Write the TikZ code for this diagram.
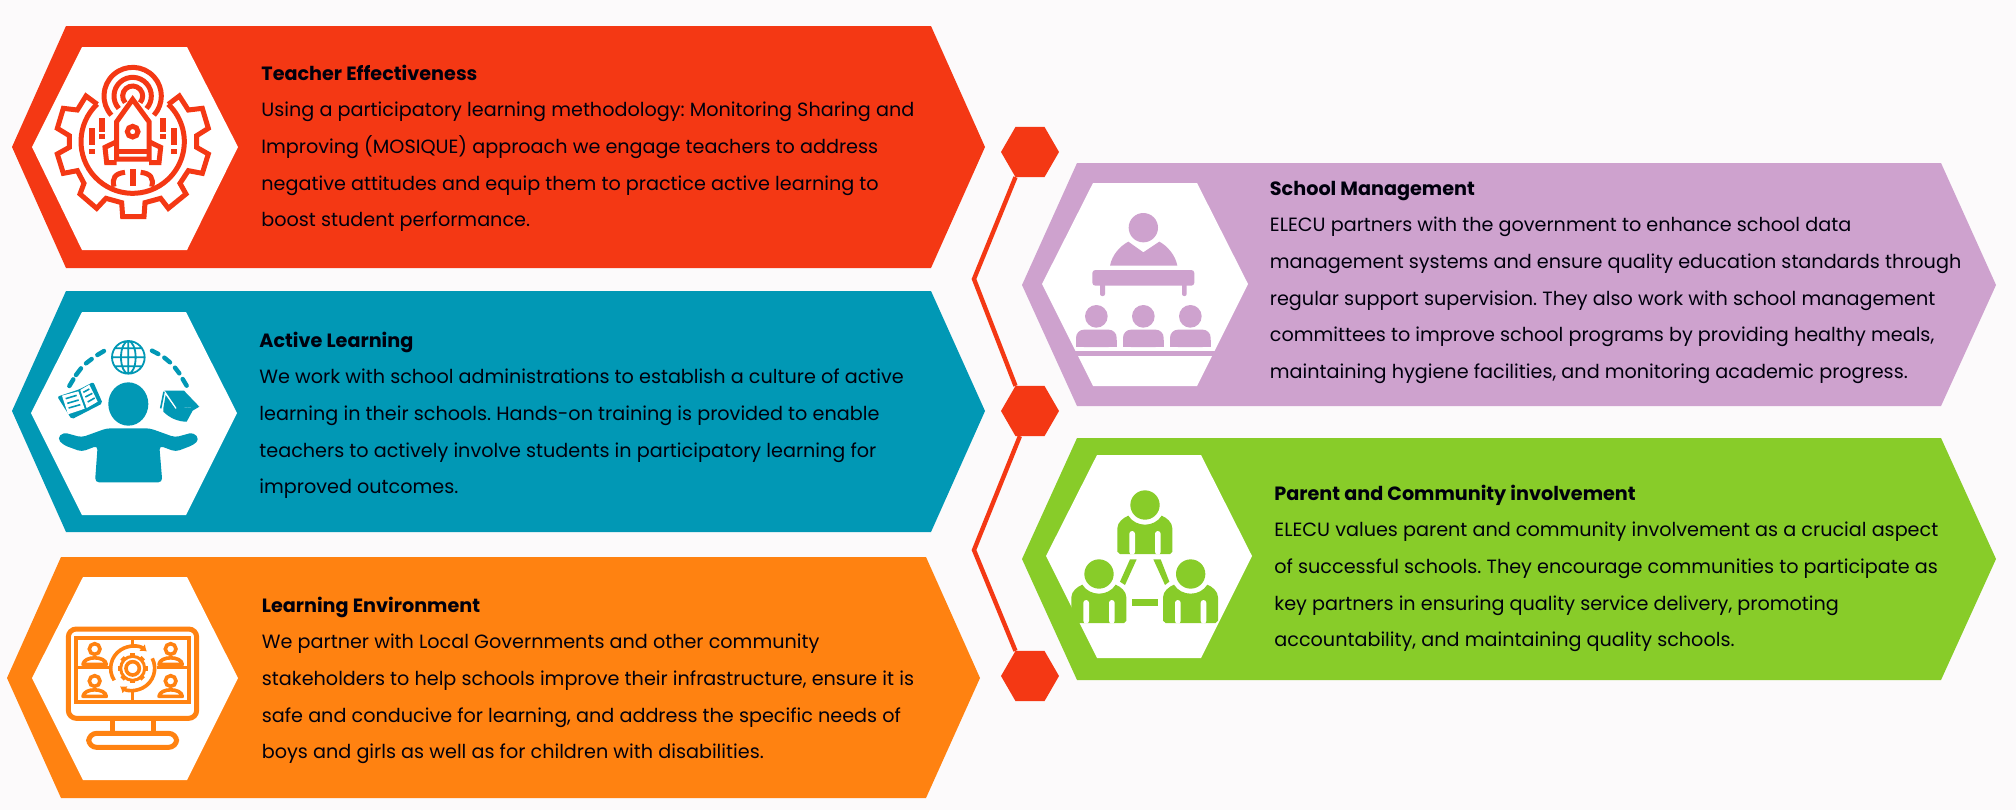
\documentclass[tikz,border=0pt]{standalone}
\usepackage{fontspec}
\setmainfont{Poppins}
\usetikzlibrary{shapes.geometric,arrows.meta}

\definecolor{pagebg}{HTML}{FCFAFB}
\definecolor{panelred}{HTML}{F43814}
\definecolor{panelblue}{HTML}{0198B5}
\definecolor{panelorange}{HTML}{FF8211}
\definecolor{panelpurple}{HTML}{CEA2CE}
\definecolor{panelgreen}{HTML}{88CC29}

\tikzset{
  paneltext/.style={anchor=north west,inner sep=0pt,align=left,text=black!95!blue,
    font=\fontsize{9.6pt}{18.35pt}\selectfont\frenchspacing},
  smallhex/.style={shape=regular polygon,regular polygon sides=6,minimum size=29pt,
    inner sep=0pt,outer sep=0pt,fill=panelred},
  hexlink/.style={draw=panelred,line width=2.2pt,line join=miter},
}

\begin{document}
\begin{tikzpicture}[x=0.5pt,y=-0.5pt]
  \useasboundingbox (0,0) rectangle (2016,810);
  \fill[pagebg] (0,0) rectangle (2016,810);

  % the five panels with their white hexagons
  \foreach \col/\xa/\xb/\xc/\xd/\ya/\ym/\yb in {
    panelred/12/66/931/985/26/147/268,
    panelblue/12/66/931/985/291/411/532,
    panelorange/7/61/926/980/557/678/798,
    panelpurple/1022/1077/1941/1996/163/285/406,
    panelgreen/1022/1077/1941/1996/438/559/680}{
    \fill[\col] (\xb,\ya) -- (\xc,\ya) -- (\xd,\ym) -- (\xc,\yb) -- (\xb,\yb) -- (\xa,\ym) -- cycle;
  }
  \foreach \xa/\xb/\xc/\xd/\ya/\ym/\yb in {
    32/82/187/238/47/147/250,
    31/82/186/237/312/413/515,
    32/83/187/238/577/678/780,
    1042/1093/1197/1248/183/284/386,
    1046/1097/1201/1252/455/556/658}{
    \fill[white] (\xb,\ya) -- (\xc,\ya) -- (\xd,\ym) -- (\xc,\yb) -- (\xb,\yb) -- (\xa,\ym) -- cycle;
  }

  % texts
  \node[paneltext] (teacher) at (261,54) {\strut\textbf{Teacher Effectiveness}\\
    Using a participatory learning methodology: Monitoring Sharing and\\
    Improving (MOSIQUE) approach we engage teachers to address\\
    negative attitudes and equip them to practice active learning to\\
    boost student performance.};
  \node[paneltext] (active) at (259,321) {\strut\textbf{Active Learning}\\
    We work with school administrations to establish a culture of active\\
    learning in their schools. Hands-on training is provided to enable\\
    teachers to actively involve students in participatory learning for\\
    improved outcomes.};
  \node[paneltext] (environment) at (261.5,586) {\strut\textbf{Learning Environment}\\
    We partner with Local Governments and other community\\
    stakeholders to help schools improve their infrastructure, ensure it is\\
    safe and conducive for learning, and address the specific needs of\\
    boys and girls as well as for children with disabilities.};
  \node[paneltext] (management) at (1269.5,169) {\strut\textbf{School Management}\\
    ELECU partners with the government to enhance school data\\
    management systems and ensure quality education standards through\\
    regular support supervision. They also work with school management\\
    committees to improve school programs by providing healthy meals,\\
    maintaining hygiene facilities, and monitoring academic progress.};
  \node[paneltext] (community) at (1274,474) {\strut\textbf{Parent and Community involvement}\\
    ELECU values parent and community involvement as a crucial aspect\\
    of successful schools. They encourage communities to participate as\\
    key partners in ensuring quality service delivery, promoting\\
    accountability, and maintaining quality schools.};

  % timeline hexagons
  \node[smallhex] (hextop) at (1030,152) {};
  \node[smallhex] (hexmid) at (1030,411) {};
  \node[smallhex] (hexbot) at (1030,676) {};
  \coordinate (bendtop) at (974,279);
  \coordinate (bendbot) at (974,550);
  \draw[hexlink] (hextop.corner 4) -- (bendtop) -- (hexmid.corner 2);
  \draw[hexlink] (hexmid) -- (bendbot) -- (hexbot.corner 2);

  % rocket and gear
  \begin{scope}[shift={(0,10)},scale=1/3,panelred,line width=2.5pt]
    \foreach \r in {86,56,30}{
      \draw ([shift={(138:\r)}]398,258) arc[start angle=138,end angle=402,radius=\r];
    }
    \draw ([shift={(226.6:155)}]398,395) arc[start angle=226.6,end angle=-46.6,radius=155];
    \draw[line join=miter] (292,283) -- (258,258) -- (232,300) -- (190,295) -- (172,355) -- (208,377) -- (208,412)
      -- (172,432) -- (190,490) -- (232,482) -- (252,520) -- (240,552) -- (290,595) -- (318,565) -- (365,578)
      -- (368,620) -- (432,620) -- (435,578) -- (482,565) -- (505,595) -- (558,552) -- (540,520) -- (565,482)
      -- (607,490) -- (625,432) -- (590,412) -- (590,377) -- (625,355) -- (607,295) -- (565,300) -- (538,258) -- (505,283);
    \fill[white] (398,268) -- (350,335) -- (350,447) -- (447,447) -- (447,335) -- cycle;
    \draw[line join=miter] (398,268) -- (350,335) -- (350,447) -- (447,447) -- (447,335) -- cycle;
    \draw (350,425) -- (447,425);
    \draw (398,365) circle[radius=16];
    \draw (350,395) -- (315,412) -- (320,458) -- (350,458);
    \draw (447,395) -- (482,412) -- (477,458) -- (447,458);
    \draw (342,530) .. controls (335,505) and (345,490) .. (375,487);
    \draw (455,530) .. controls (462,505) and (452,490) .. (422,487);
    \fill (390,478) rectangle (408,527);
    \foreach \xa/\xb in {268/284,512/530}{
      \fill (\xa,355) rectangle (\xb,405);
      \fill (\xa,418) rectangle (\xb,433);
    }
    \foreach \xa/\xb in {298/315,480/497}{
      \fill (\xa,323) rectangle (\xb,365);
      \fill (\xa,372) rectangle (\xb,388);
    }
  \end{scope}

  % learner with book, globe and cap
  \begin{scope}[shift={(0,280)},scale=1/3,panelblue]
    \fill (385,372) ellipse[x radius=60,y radius=65];
    \fill[rounded corners=2pt] (190,457) -- (245,472) -- (320,445) -- (450,445) -- (525,472) -- (580,457)
      -- (598,478) -- (580,495) -- (527,515) -- (478,497) -- (487,607) -- (285,607) -- (293,497)
      -- (245,515) -- (190,495) -- (172,475) -- cycle;
    \draw[line width=0.9pt] (385,232) circle[radius=49] (385,232) ellipse[x radius=22,y radius=49]
      (385,183) -- (385,281) (336,232) -- (434,232) (346,205) -- (424,205) (346,259) -- (424,259);
    \draw[line width=2.2pt,line cap=round] (208,318) -- (220,298) (228,285) -- (243,265) (258,250) -- (275,237) (292,225) -- (312,213)
      (456,212) -- (475,222) (493,233) -- (510,247) (525,263) -- (538,280) (548,297) -- (560,317);
    % book
    \fill[rounded corners=1pt] (172,350) -- (238,328) -- (280,306) -- (308,370) -- (215,418) -- cycle;
    \fill[white] (186,347) -- (235,334) -- (254,386) -- (204,403) -- cycle;
    \fill[white] (241,330) -- (268,314) -- (293,365) -- (260,384) -- cycle;
    \draw[line width=0.8pt] (197,356) -- (230,346) (202,370) -- (236,360) (206,384) -- (241,374)
      (250,337) -- (268,327) (256,351) -- (277,340) (263,366) -- (284,354);
    % cap
    \fill (490,385) -- (497,345) -- (526,385) -- (598,380) -- (578,392) -- (560,425) .. controls (535,425) and (510,415) .. (490,395) -- cycle;
    \fill (492,332) -- (552,332) -- (598,380) -- (528,385) -- cycle;
    \draw[white,line width=0.6pt] (492,332) -- (528,385);
    \draw[line width=0.8pt] (492,335) -- (482,385);
  \end{scope}

  % monitor with faces and gear
  \begin{scope}[shift={(0,545)},scale=1/3,panelorange]
    \draw[line width=2.5pt,rounded corners=4pt] (205,252) rectangle (590,520);
    \draw[line width=2.1pt] (228,278) rectangle (568,470);
    \draw[line width=1.8pt] (228,367) -- (330,367) (470,367) -- (568,367) (398,278) -- (398,302) (398,438) -- (398,470);
    \draw[line width=2.3pt] (337,520) -- (337,562) (460,520) -- (460,562);
    \draw[line width=2.5pt,rounded corners=4pt] (266,607) -- (266,565) -- (530,565) -- (530,607) -- cycle;
    \foreach \px/\py in {284/312,512/312,284/408,512/408}{
      \draw[line width=1.8pt] (\px,\py) circle[radius=16];
      \draw[line width=1.8pt,line join=round] (\px-35,\py+46) .. controls (\px-32,\py+20) and (\px+32,\py+20) .. (\px+35,\py+46) -- cycle;
    }
    \draw[line width=1.8pt,-{Latex[length=3pt,width=4.5pt]}] ([shift={(147:66)}]398,370) arc[start angle=147,end angle=310,radius=66];
    \draw[line width=1.8pt,-{Latex[length=3pt,width=4.5pt]}] ([shift={(333:66)}]398,370) arc[start angle=333,end angle=485,radius=66];
    \draw[line width=1.5pt] (398,370) circle[radius=36];
    \foreach \a in {0,45,...,315}{
      \draw[line width=2.4pt] (\a:34) ++(398,370) -- ++(\a:11);
    }
    \draw[line width=1.8pt] (398,370) circle[radius=20];
  \end{scope}

  % teacher at a desk and pupils
  \begin{scope}[shift={(950,110)},scale=1/3,panelpurple]
    \fill (580,353) circle[radius=44];
    \fill (480,467) .. controls (486,435) and (510,408) .. (535,395) -- (580,427) -- (628,395) .. controls (652,408) and (676,435) .. (682,467) -- cycle;
    \fill[rounded corners=1.5pt] (427,480) rectangle (733,527);
    \fill[rounded corners=1pt] (450,520) rectangle (465,558) (696,520) rectangle (710,558);
    \foreach \px in {439,580,721}{
      \fill (\px,619) circle[radius=34];
      \fill[rounded corners=4pt] (\px-61,711) -- (\px-61,659) -- (\px+61,659) -- (\px+61,711) -- cycle;
      \fill (\px-61,690) rectangle (\px+61,711);
    }
    \fill (362,723) rectangle (800,738);
  \end{scope}

  % three parents linked
  \begin{scope}[shift={(950,400)},scale=1/3,panelgreen]
    \foreach \px/\py in {585/315,447/522,722/522}{
      \begin{scope}[shift={(\px,\py)}]
        \fill (0,0) circle[radius=44];
        \fill (-83,140) -- (-83,70) .. controls (-83,52) and (-65,38) .. (-50,32)
          .. controls (-28,68) and (28,68) .. (50,32) .. controls (65,38) and (82,52) .. (82,70)
          -- (82,140) -- (75,147) -- (-75,147) -- (-83,140) -- cycle;
        \fill[white,rounded corners=1.4pt] (-47,149) -- (-47,78) -- (-30,78) -- (-30,149) -- cycle;
        \fill[white,rounded corners=1.4pt] (30,149) -- (30,78) -- (47,78) -- (47,149) -- cycle;
      \end{scope}
    }
    \fill (540,478) -- (560,478) -- (525,555) -- (510,545) -- cycle;
    \fill (610,478) -- (632,478) -- (658,545) -- (645,555) -- cycle;
    \fill (545,598) rectangle (625,618);
  \end{scope}
\end{tikzpicture}
\end{document}
